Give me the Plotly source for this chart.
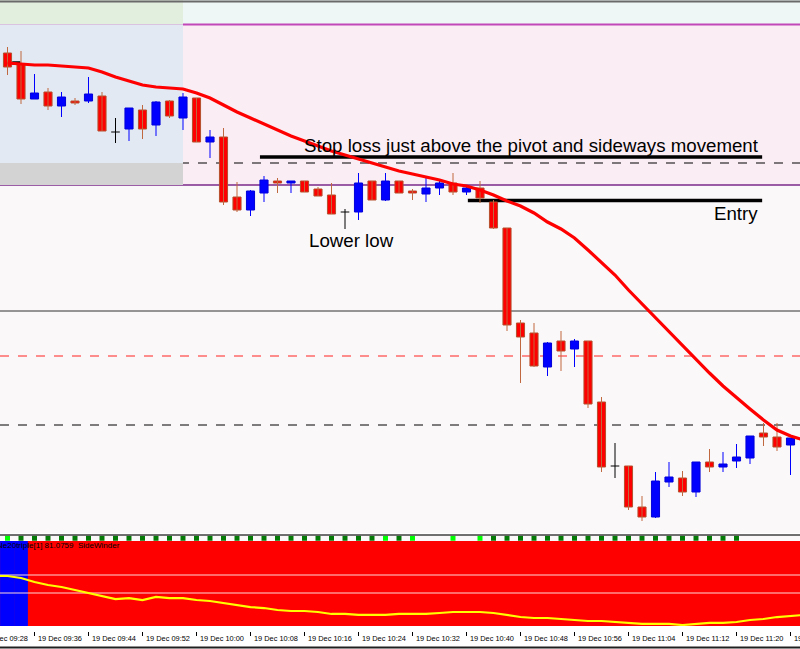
import plotly.graph_objects as go

# ---------------- data ----------------
first_bar_time = "09:30"
bar_minutes = 2

opens = [534,547,536,501,508,494,499,499,504,468,471,490,475,499,482,502,458,463,403,390,
         407,419,417,419,411,405,388,388,419,400,419,409,406,412,417,408,412,398,372,277,
         267,233,259,251,259,198,134,134,93,83,118,122,108,138,133,139,142,167,163,155]
highs = [540,553,549,526,512,508,502,523,508,482,492,495,499,500,507,502,470,472,418,410,
         424,422,419,419,413,417,391,427,419,427,419,411,422,420,427,413,419,400,372,280,
         277,258,269,261,259,203,157,134,104,128,138,129,138,151,148,156,164,177,177,162]
lows = [532,525,496,501,490,483,495,497,469,457,459,461,464,482,470,458,442,395,388,384,
        398,407,407,408,404,386,371,380,400,399,407,400,398,405,405,405,397,371,269,217,
        233,224,229,233,192,128,122,90,79,82,113,104,103,128,128,132,136,154,149,125]
closes = [537,533,501,507,494,503,497,506,469,468,492,471,498,484,503,458,463,398,390,409,
          420,417,419,408,404,386,388,417,400,419,407,407,412,417,408,412,402,372,275,263,
          234,257,249,259,196,133,134,93,83,119,123,108,138,133,136,143,164,163,153,162]

ema = [None,537,536,535,535,534,533,532,528,523,519,515,513,512,511,507,502,495,488,482,
       476,470,464,459,454,449,445,441,437,433,429,426,423,420,416,414,410,405,399,394,
       387,378,371,362,350,337,325,310,296,282,268,254,240,227,214,202,191,180,170,164,160]

osc = [58.9,58.9,56.7,52.2,48.9,46.7,43.3,40.0,36.7,33.3,34.4,32.2,35.6,34.4,34.4,32.2,
       31.1,28.9,26.7,24.4,23.3,21.1,20.0,20.0,18.9,16.7,16.7,15.6,15.6,15.6,16.7,16.7,
       16.7,17.8,18.9,18.9,18.9,17.8,15.6,13.3,12.2,12.2,11.1,10.0,8.9,8.9,7.8,6.7,5.6,
       5.6,5.6,4.4,5.6,6.7,6.7,7.8,10.0,11.1,13.3,14.4,15.6]
osc_levels = [60, 40]
panel_state = ["B", "B", "B"] + ["R"] * 58
signal = list("-L" + "D" * 27 + "LDL--L-L" + "D" * 19 + "----")

tick_times = ["09:28","09:36","09:44","09:52","10:00","10:08","10:16","10:24",
              "10:32","10:40","10:48","10:56","11:04","11:12","11:20","11:28"]
tick_date = "19 Dec"

# horizontal price levels
upper_zone = [415, 575.5]
left_zone_end_bar = 14
left_zone_split = 437
level_purple_top = 575.5
level_dash_1 = 437
level_purple = 415
level_solid = 289
level_red_dash = 244
level_dash_2 = 175
stop_price, stop_from, stop_to = 443, 19.7, 56.9
entry_price, entry_from, entry_to = 399.5, 35.1, 56.9
pivot_price, pivot_from, pivot_to = 537, 1.35, 1.95
lower_low_bar = 26
y_main = [67, 600]
y_osc = [3.33, 97.78]

# ---------------- figure ----------------
W, H = 800, 649
X0, X1 = 6 / 13.5, 806 / 13.5


def py(px):  # paper y from pixel row
    return (H - px) / H


def tmin(t):
    h, m = t.split(":")
    return int(h) * 60 + int(m)


n = len(opens)
idx = list(range(n))
bull = [i for i in idx if closes[i] > opens[i]]
bear = [i for i in idx if closes[i] < opens[i]]
doji = [i for i in idx if closes[i] == opens[i]]


def wicks(ids):
    xs, ys = [], []
    for i in ids:
        xs += [i, i, None]
        ys += [lows[i], highs[i], None]
    return xs, ys


fig = go.Figure()

RED_EDGE = "#b4502d"
BLUE = "#0000ff"

# oscillator panel state (blue part)
blue_ids = [i for i, s in enumerate(panel_state) if s == "B"]
fig.add_trace(go.Bar(x=blue_ids, y=[y_osc[1] - y_osc[0]] * len(blue_ids), base=[y_osc[0]] * len(blue_ids),
                     width=1.02, marker=dict(color="#0000ff", line=dict(width=0)),
                     xaxis="x", yaxis="y2"))
for lv in osc_levels:
    fig.add_trace(go.Scatter(x=[-1, n + 1], y=[lv, lv], mode="lines",
                             line=dict(color="#ffd8d8", width=1), xaxis="x", yaxis="y2"))
fig.add_trace(go.Scatter(x=list(range(len(osc))), y=osc, mode="lines",
                         line=dict(color="#ffff00", width=2.2), xaxis="x", yaxis="y2"))

# signal squares
for key, col in (("D", "#067a06"), ("L", "#00ff00")):
    ids = [i for i, s in enumerate(signal) if s == key]
    fig.add_trace(go.Scatter(x=ids, y=[0.5] * len(ids), mode="markers",
                             marker=dict(symbol="square", size=5, color=col, line=dict(width=0)),
                             xaxis="x", yaxis="y3", cliponaxis=False))

# wicks
for ids, col in ((bear, "#c0683f"), (bull, BLUE), (doji, "#000000")):
    xs, ys = wicks(ids)
    fig.add_trace(go.Scatter(x=xs, y=ys, mode="lines", line=dict(color=col, width=1)))

# bodies
fig.add_trace(go.Bar(x=bear, y=[opens[i] - closes[i] for i in bear], base=[closes[i] for i in bear],
                     width=0.6, marker=dict(color="#ff0000", line=dict(color=RED_EDGE, width=1))))
fig.add_trace(go.Bar(x=bull, y=[closes[i] - opens[i] for i in bull], base=[opens[i] for i in bull],
                     width=0.6, marker=dict(color=BLUE, line=dict(color="#0000d8", width=1))))
dx, dy = [], []
for i in doji:
    dx += [i - 0.32, i + 0.32, None]
    dy += [opens[i], opens[i], None]
fig.add_trace(go.Scatter(x=dx, y=dy, mode="lines", line=dict(color="#000000", width=1)))

# moving average
fig.add_trace(go.Scatter(x=list(range(len(ema))), y=ema, mode="lines",
                         line=dict(color="#ff0000", width=3.2)))

shapes = []
# background zones
shapes.append(dict(type="rect", xref="paper", yref="y", x0=0, x1=1, y0=level_purple_top, y1=y_main[1],
                   fillcolor="#eef7f5", line=dict(width=0), layer="below"))
shapes.append(dict(type="rect", xref="paper", yref="y", x0=0, x1=1, y0=upper_zone[0], y1=upper_zone[1],
                   fillcolor="#fbedf4", line=dict(width=0), layer="below"))
shapes.append(dict(type="rect", xref="x", yref="y", x0=-1, x1=left_zone_end_bar, y0=level_purple_top, y1=y_main[1],
                   fillcolor="#e2efdf", line=dict(width=0), layer="below"))
shapes.append(dict(type="rect", xref="x", yref="y", x0=-1, x1=left_zone_end_bar, y0=left_zone_split, y1=level_purple_top,
                   fillcolor="#e2e9f3", line=dict(width=0), layer="below"))
shapes.append(dict(type="rect", xref="x", yref="y", x0=-1, x1=left_zone_end_bar, y0=upper_zone[0], y1=left_zone_split,
                   fillcolor="#d3d3d3", line=dict(width=0), layer="below"))


def hline(y, color, width, dash="solid"):
    shapes.append(dict(type="line", xref="paper", yref="y", x0=0, x1=1, y0=y, y1=y,
                       line=dict(color=color, width=width, dash=dash), layer="below"))


hline(level_purple_top, "#c048b8", 2)
hline(level_dash_1, "#000000", 1, "dash")
hline(level_purple, "#7a2a8a", 1.3)
hline(level_solid, "#303030", 1)
hline(level_red_dash, "#ff2020", 1, "dash")
hline(level_dash_2, "#000000", 1, "dash")

for (pv, a, b) in ((stop_price, stop_from, stop_to), (entry_price, entry_from, entry_to),
                   (pivot_price, pivot_from, pivot_to)):
    shapes.append(dict(type="line", xref="x", yref="y", x0=a, x1=b, y0=pv, y1=pv,
                       line=dict(color="#000000", width=3.5), layer="below"))

# oscillator panel background
shapes.append(dict(type="rect", xref="paper", yref="y2", x0=0, x1=1, y0=y_osc[0], y1=y_osc[1],
                   fillcolor="#ff0000", line=dict(width=0), layer="below"))
# frame lines
shapes.append(dict(type="line", xref="paper", yref="paper", x0=0, x1=1, y0=py(1.5), y1=py(1.5),
                   line=dict(color="#6a6a6a", width=2)))
shapes.append(dict(type="line", xref="paper", yref="paper", x0=0, x1=1, y0=py(535), y1=py(535),
                   line=dict(color="#404040", width=1.5)))
shapes.append(dict(type="line", xref="paper", yref="paper", x0=0, x1=1, y0=py(647.5), y1=py(647.5),
                   line=dict(color="#202020", width=2)))

FONT = "Liberation Sans, Arial, sans-serif"
annotations = [
    dict(text="Stop loss just above the pivot and sideways movement", x=stop_to, y=stop_price,
         xref="x", yref="y", xanchor="right", yanchor="middle", yshift=11.5, xshift=-1,
         showarrow=False, font=dict(family=FONT, size=18.7, color="#000000")),
    dict(text="Entry", x=entry_to, y=entry_price, xref="x", yref="y", xanchor="right", yanchor="middle",
         yshift=-12.5, xshift=-2, showarrow=False, font=dict(family=FONT, size=18.7, color="#000000")),
    dict(text="Lower low", x=lower_low_bar, y=lows[lower_low_bar], xref="x", yref="y",
         xanchor="center", yanchor="middle", yshift=-11.5, xshift=6.5, showarrow=False,
         font=dict(family=FONT, size=18.7, color="#000000")),
    dict(text="Ne20triple[1] 81.0759  SideWinder", x=0, y=py(545.5), xref="paper", yref="paper",
         xanchor="left", yanchor="middle", xshift=-5, showarrow=False,
         font=dict(family=FONT, size=8, color="#000000")),
]

t0 = tmin(first_bar_time)
tick_idx = [(tmin(t) - t0) / bar_minutes for t in tick_times]
for t, ti in zip(tick_times, tick_idx):
    annotations.append(dict(text=f"{tick_date} {t}", x=(ti - X0) / (X1 - X0), y=py(638.5),
                            xref="paper", yref="paper", xanchor="left", yanchor="middle",
                            xshift=1, showarrow=False,
                            font=dict(family=FONT, size=7.4, color="#000000")))

fig.update_layout(
    width=W, height=H, autosize=False,
    margin=dict(l=0, r=0, t=0, b=0, pad=0, autoexpand=False),
    paper_bgcolor="#ffffff", plot_bgcolor="#fbf8fa",
    showlegend=False, hovermode=False, barmode="overlay",
    shapes=shapes, annotations=annotations,
    xaxis=dict(range=[X0, X1], domain=[0, 1], anchor="free", position=py(631),
               showgrid=False, zeroline=False, showline=False, showticklabels=False,
               ticks="outside", ticklen=4, tickwidth=1, tickcolor="#000000",
               tickmode="array", tickvals=tick_idx, automargin=False),
    yaxis=dict(range=y_main, domain=[py(533), 1], visible=False, anchor="x"),
    yaxis2=dict(range=y_osc, domain=[py(626), py(541)], visible=False, anchor="x"),
    yaxis3=dict(range=[0, 1], domain=[py(541), py(535.5)], visible=False, anchor="x"),
)

fig.write_html("out.html", config={"displayModeBar": False, "staticPlot": True},
               post_script="document.body.style.margin='0';document.body.style.padding='0';document.body.style.overflow='hidden';")
